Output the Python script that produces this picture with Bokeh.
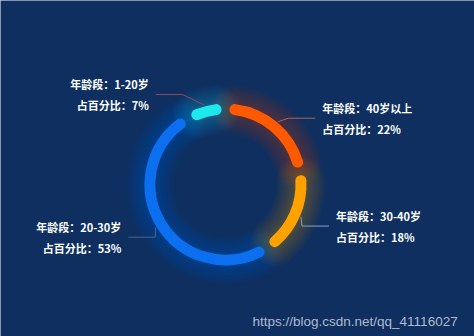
import math

from bokeh.core.properties import value
from bokeh.embed import file_html
from bokeh.models import ColumnDataSource, Range1d
from bokeh.plotting import figure
from bokeh.resources import INLINE

# Age-group shares, drawn clockwise from 12 o'clock
age_groups = ["40岁以上", "30-40岁", "20-30岁", "1-20岁"]
shares = [22, 18, 53, 7]
ring_colors = ["#ff5a00", "#ffa200", "#0b6ff0", "#1de9ec"]
leader_colors = ["#a86a55", "#8aa2b8", "#4f6584", "#8c4c5e"]
label_sides = ["right", "right", "left", "left"]

W, H = 474, 336
BG = "#0e2f5f"

# ring geometry (1 data unit == 1 pixel, y grows upwards)
cx, cy = 225, H - 184
r_mid = 75.5
ring_w = 11
gap_deg = 6.0
start_deg = 90.0 - gap_deg / 2

# label-line elbows are pushed a little so the labels do not crowd (dx, dy in px, y up)
elbow_shift = [(3, -5), (-9, -5), (9, -4), (-19, 0)]

p = figure(width=W, height=H, x_range=Range1d(0, W), y_range=Range1d(0, H),
           output_backend="svg", toolbar_location=None, min_border=0)
p.axis.visible = False
p.grid.visible = False
p.outline_line_color = None
p.background_fill_color = BG
p.border_fill_color = BG

total = float(sum(shares))
available = 360.0 - gap_deg * len(shares)
cap_deg = math.degrees((ring_w / 2) / r_mid)

segs = []
cur = start_deg
for name, share, col in zip(age_groups, shares, ring_colors):
    span = share / total * available
    vis_start, vis_end = cur, cur - span
    segs.append(dict(name=name, share=share, color=col,
                     a0=math.radians(vis_start - cap_deg),
                     a1=math.radians(vis_end + cap_deg),
                     mid=math.radians((vis_start + vis_end) / 2)))
    cur = vis_end - gap_deg

# soft halo around the ring: thin translucent strokes for a smooth falloff
for lw in range(50, 12, -3):
    for s in segs:
        p.arc(x=cx, y=cy, radius=r_mid, start_angle=s["a0"], end_angle=s["a1"],
              direction="clock", line_color=s["color"], line_width=lw,
              line_alpha=0.024, line_cap="round")

# ring segments
for s in segs:
    p.arc(x=cx, y=cy, radius=r_mid, start_angle=s["a0"], end_angle=s["a1"],
          direction="clock", line_color=s["color"], line_width=ring_w,
          line_cap="round")

# leader lines and two-line labels
r_start, r_elbow, tail, pad, half_gap = 82, 93, 27, 7, 10.5
for s, lcol, side, (sx, sy) in zip(segs, leader_colors, label_sides, elbow_shift):
    m = s["mid"]
    x0, y0 = cx + r_start * math.cos(m), cy + r_start * math.sin(m)
    x1 = cx + r_elbow * math.cos(m) + sx
    y1 = cy + r_elbow * math.sin(m) + sy
    sign = 1 if side == "right" else -1
    x2 = x1 + sign * tail
    p.line(x=[x0, x1, x2], y=[y0, y1, y1], line_color=lcol, line_width=1)
    src = ColumnDataSource(dict(
        x=[x2 + sign * pad] * 2,
        y=[y1 + half_gap, y1 - half_gap],
        t=["年龄段：" + s["name"], "占百分比：%d%%" % s["share"]],
    ))
    p.text(x="x", y="y", text="t", source=src, text_color="#ffffff",
           text_font=value("Noto Sans CJK SC"), text_font_style="bold",
           text_font_size="11px", text_baseline="middle",
           text_align="left" if side == "right" else "right")

# blog address in the lower right corner
p.text(x=[252], y=[H - 321], text=["https://blog.csdn.net/qq_41116027"],
       text_color="#aebcd0", text_font=value("Liberation Sans"),
       text_font_size="13.5px", text_baseline="middle", text_align="left")

open("out.html", "w").write(file_html(p, INLINE))
